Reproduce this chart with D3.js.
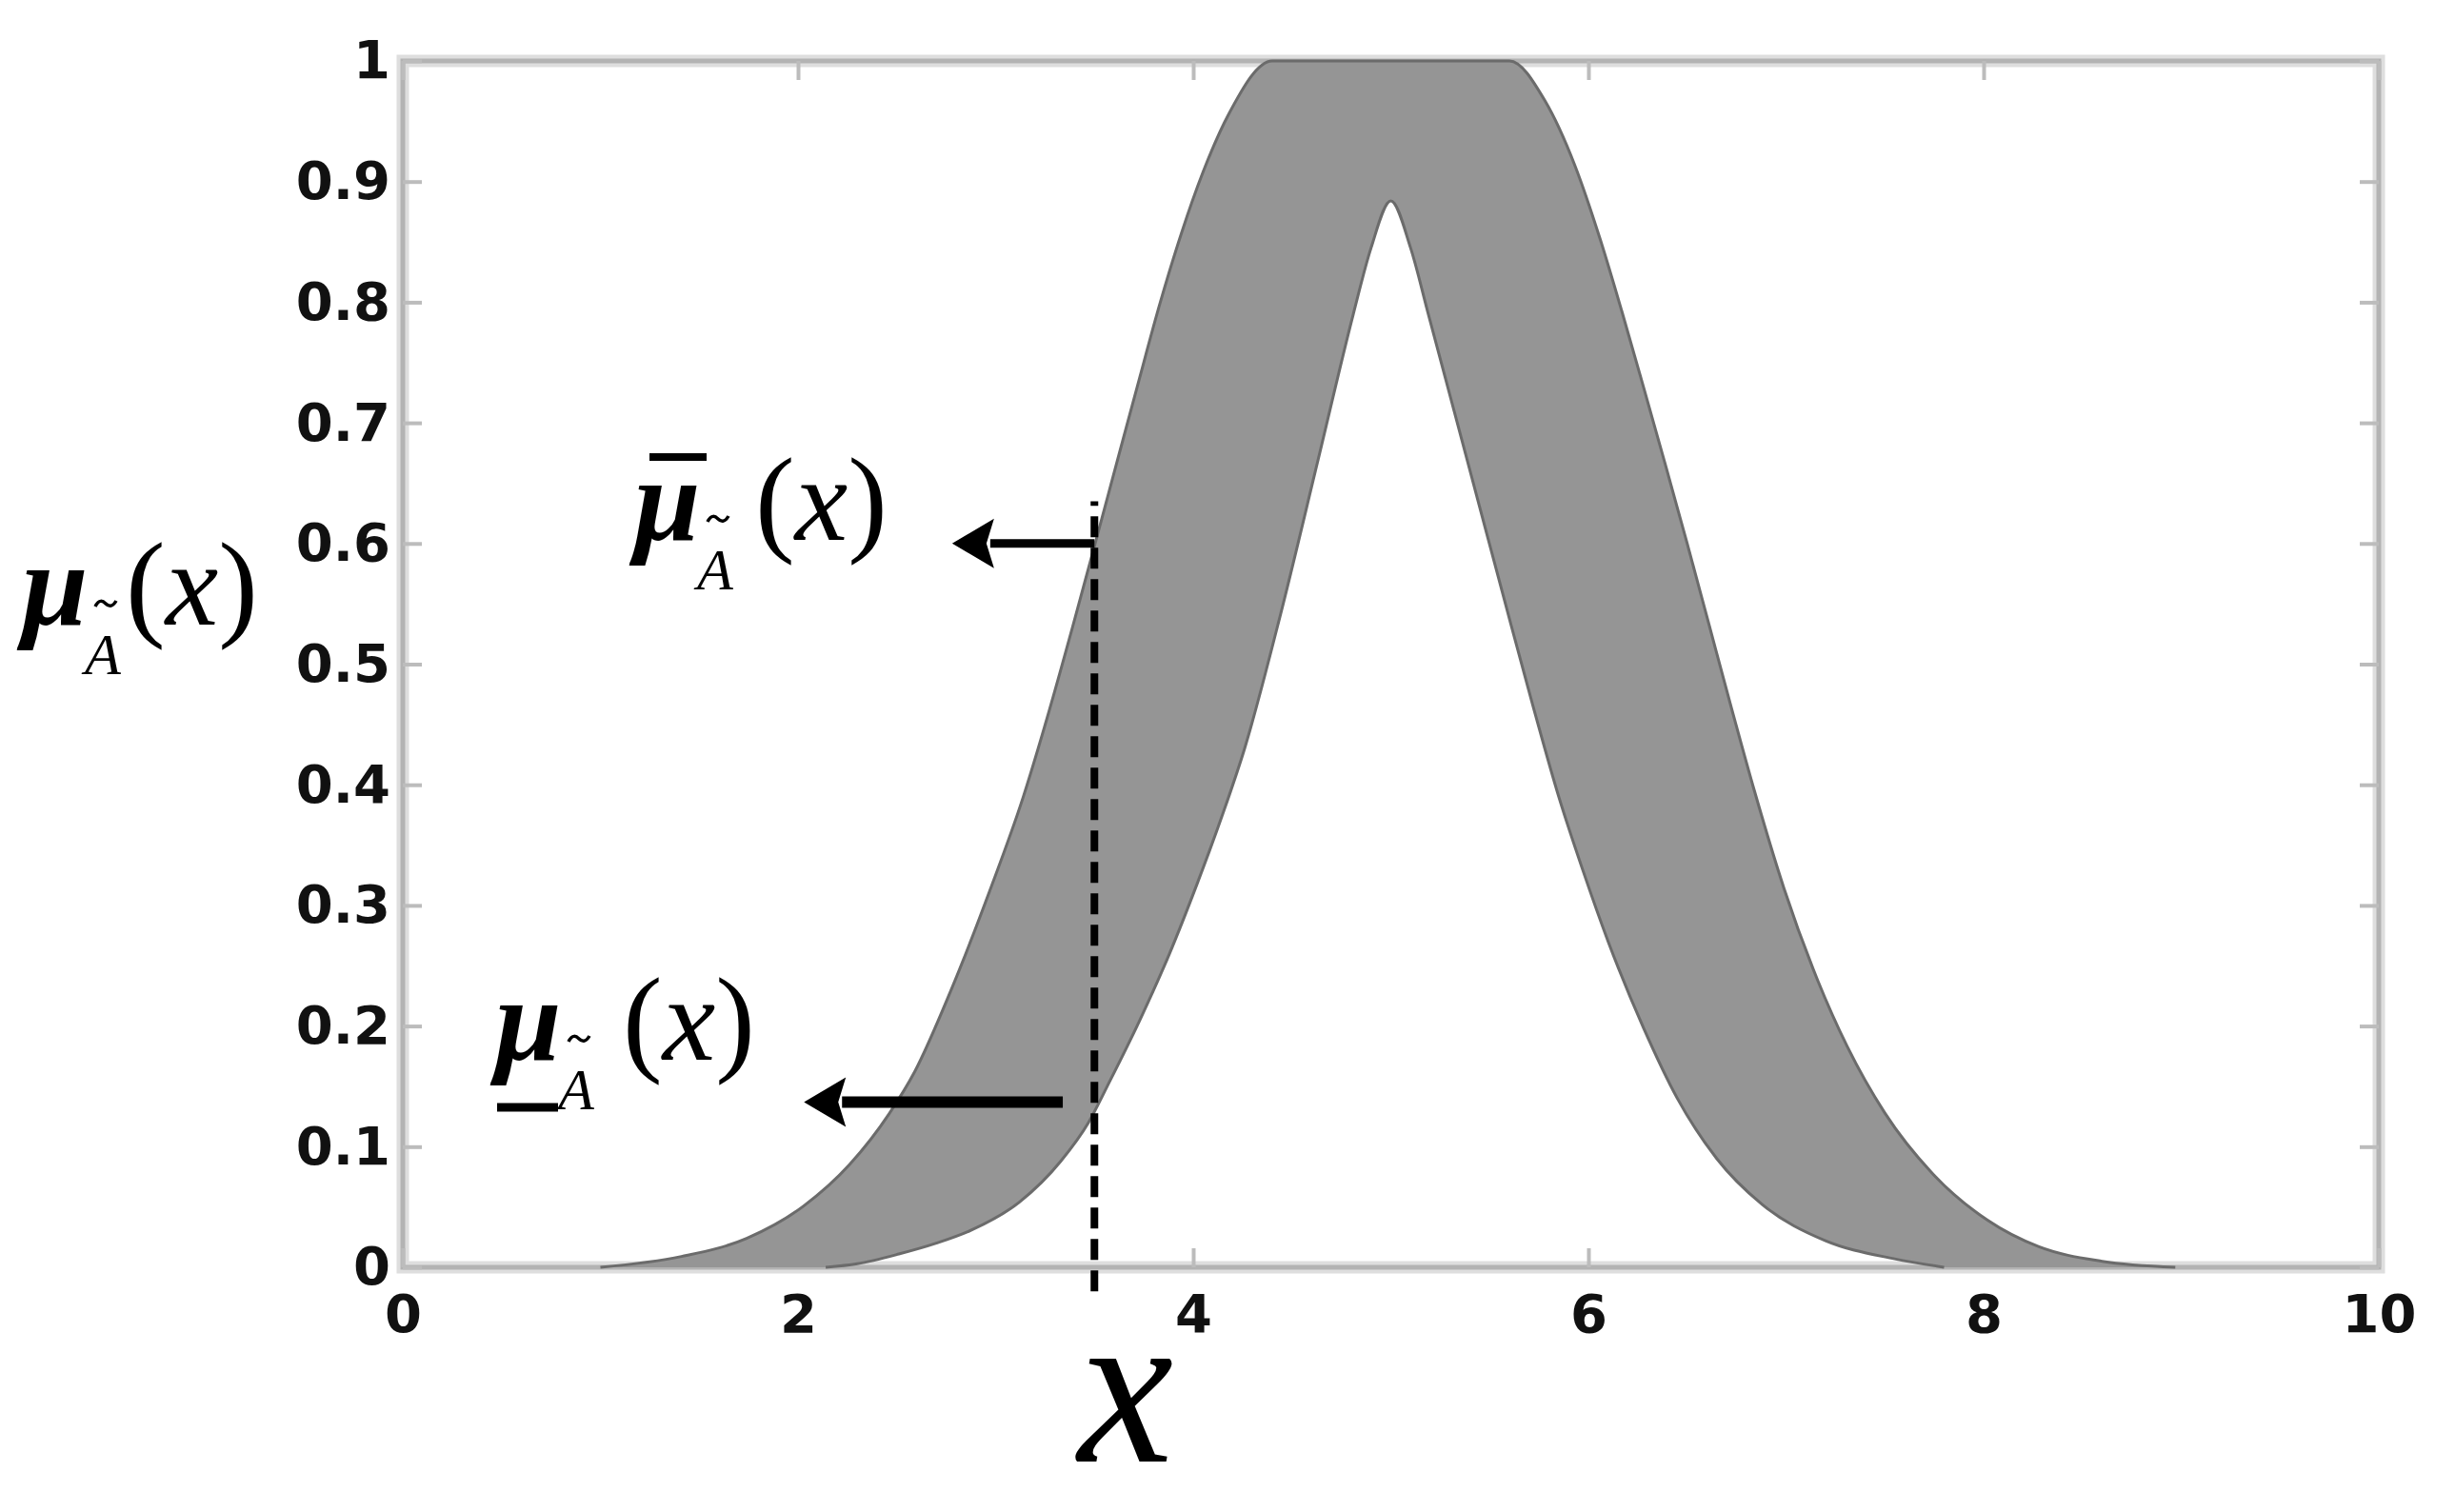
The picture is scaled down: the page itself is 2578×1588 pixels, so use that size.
<!DOCTYPE html>
<html>
<head>
<meta charset="utf-8">
<script src="https://cdn.jsdelivr.net/npm/d3@7"></script>
<style>
  body { margin: 0; background: #fff; }
  .tick text { font-family: 'DejaVu Sans', 'Liberation Sans', sans-serif; font-weight: bold; font-size: 56px; fill: #111; }
  .math text { font-family: 'Liberation Serif', 'Times New Roman', serif; fill: #000; }
</style>
</head>
<body>
<div class="svg"></div>
<script>
const width = 2578
const height = 1588

// tick values and labels
const xTicks = [0, 2, 4, 6, 8, 10]
const xTickLabels = ['0', '2', '4', '6', '8', '10']
const yTicks = [0, 0.1, 0.2, 0.3, 0.4, 0.5, 0.6, 0.7, 0.8, 0.9, 1]
const yTickLabels = ['0', '0.1', '0.2', '0.3', '0.4', '0.5', '0.6', '0.7', '0.8', '0.9', '1']

// upper membership function (outer edge of the band)
const upperX = [1.0, 1.41, 1.74, 2.03, 2.26, 2.46, 2.59, 2.77, 2.97, 3.14,
  3.26, 3.39, 3.52, 3.61, 3.72, 3.83, 3.94, 4.05, 4.18, 4.4,
  5.0, 5.6, 5.78, 5.93, 6.06, 6.17, 6.28, 6.39, 6.5, 6.61,
  6.72, 6.84, 6.99, 7.16, 7.31, 7.5, 7.74, 8.02, 8.28, 8.6, 8.97]
const upperMu = [0, 0.009, 0.024, 0.051, 0.085, 0.127, 0.162, 0.228, 0.312, 0.39,
  0.455, 0.531, 0.61, 0.665, 0.732, 0.798, 0.857, 0.908, 0.956, 1.0,
  1.0, 1.0, 0.967, 0.914, 0.852, 0.792, 0.729, 0.665, 0.6, 0.533,
  0.466, 0.395, 0.314, 0.238, 0.183, 0.128, 0.078, 0.039, 0.017, 0.005, 0]

// lower membership function (inner edge of the band)
const lowerX = [2.14, 2.3, 2.51, 2.7, 2.88, 3.12, 3.33, 3.47, 3.58, 3.73,
  3.88, 4.02, 4.15, 4.26, 4.44, 4.63, 4.81, 4.9, 5.0, 5.1,
  5.19, 5.32, 5.45, 5.58, 5.72, 5.85, 5.97, 6.1, 6.28, 6.45,
  6.65, 6.88, 7.2, 7.55, 7.8]
const lowerMu = [0, 0.003, 0.011, 0.02, 0.031, 0.054, 0.088, 0.12, 0.155, 0.205,
  0.26, 0.318, 0.376, 0.43, 0.54, 0.668, 0.79, 0.845, 0.884, 0.845,
  0.79, 0.71, 0.63, 0.55, 0.465, 0.39, 0.33, 0.27, 0.198, 0.14,
  0.09, 0.052, 0.022, 0.007, 0]

// the dashed cut at x' and the two arrows pointing at the bounds
const cutX = 3.5
const cutRange = [-0.02, 0.635]
const arrowStartX = [3.5, 3.34]
const arrowEndX = [2.78, 2.03]
const arrowMu = [0.6, 0.137]

const svg = d3
  .select('.svg')
  .append('svg')
  .attr('width', width)
  .attr('height', height)

const xScale = d3.scaleLinear().domain([0, 10]).range([423, 2498])
const yScale = d3.scaleLinear().domain([0, 1]).range([1331, 64])

// frame of the axes box
const frame = (stroke, w) =>
  svg
    .append('rect')
    .attr('x', xScale(0))
    .attr('y', yScale(1))
    .attr('width', xScale(10) - xScale(0))
    .attr('height', yScale(0) - yScale(1))
    .attr('fill', 'none')
    .attr('stroke', stroke)
    .attr('stroke-width', w)
frame('#dedede', 13)
frame('#b3b3b3', 5)

const styleTicks = g => {
  g.select('.domain').remove()
  g.selectAll('.tick line').attr('stroke', '#bcbcbc').attr('stroke-width', 4)
}

svg
  .append('g')
  .attr('transform', 'translate(0, ' + yScale(0) + ')')
  .call(d3.axisBottom(xScale).tickValues(xTicks).tickFormat((d, i) => xTickLabels[i]).tickSize(-20).tickPadding(28))
  .call(styleTicks)

svg
  .append('g')
  .attr('transform', 'translate(0, ' + yScale(1) + ')')
  .call(d3.axisTop(xScale).tickValues(xTicks).tickFormat('').tickSize(-20))
  .call(styleTicks)

svg
  .append('g')
  .attr('transform', 'translate(' + xScale(0) + ', 0)')
  .call(d3.axisLeft(yScale).tickValues(yTicks).tickFormat((d, i) => yTickLabels[i]).tickSize(-20).tickPadding(13))
  .call(styleTicks)

svg
  .append('g')
  .attr('transform', 'translate(' + xScale(10) + ', 0)')
  .call(d3.axisRight(yScale).tickValues(yTicks).tickFormat('').tickSize(-20))
  .call(styleTicks)

// footprint of uncertainty: area under upper MF minus area under lower MF
const upperPts = d3.zip(upperX, upperMu)
const lowerPts = d3.zip(lowerX, lowerMu)

const area = d3
  .area()
  .x(d => xScale(d[0]))
  .y0(yScale(0))
  .y1(d => yScale(d[1]))
  .curve(d3.curveMonotoneX)

const line = d3
  .line()
  .x(d => xScale(d[0]))
  .y(d => yScale(d[1]))
  .curve(d3.curveMonotoneX)

const mask = svg
  .append('defs')
  .append('mask')
  .attr('id', 'fou-mask')
  .attr('maskUnits', 'userSpaceOnUse')
  .attr('x', 0)
  .attr('y', 0)
  .attr('width', width)
  .attr('height', height)
mask.append('rect').attr('width', width).attr('height', height).attr('fill', '#fff')
mask.append('path').attr('d', area(lowerPts)).attr('fill', '#000')

svg
  .append('path')
  .attr('d', area(upperPts))
  .attr('fill', '#959595')
  .attr('mask', 'url(#fou-mask)')

svg
  .selectAll('.mf')
  .data([upperPts, lowerPts])
  .enter()
  .append('path')
  .attr('class', 'mf')
  .attr('d', line)
  .attr('fill', 'none')
  .attr('stroke', '#6b6b6b')
  .attr('stroke-width', 3)

// dashed vertical cut
svg
  .append('line')
  .attr('x1', xScale(cutX))
  .attr('x2', xScale(cutX))
  .attr('y1', yScale(cutRange[0]))
  .attr('y2', yScale(cutRange[1]))
  .attr('stroke', '#000')
  .attr('stroke-width', 8)
  .attr('stroke-dasharray', '22 11')

// arrows
const headLen = 44
const headHalf = 26
arrowMu.forEach((mu, i) => {
  const yy = yScale(mu)
  const tip = xScale(arrowEndX[i])
  svg
    .append('line')
    .attr('x1', xScale(arrowStartX[i]))
    .attr('x2', tip + headLen - 4)
    .attr('y1', yy)
    .attr('y2', yy)
    .attr('stroke', '#000')
    .attr('stroke-width', i === 0 ? 9 : 12)
  svg
    .append('path')
    .attr('d', 'M' + tip + ',' + yy + 'L' + (tip + headLen) + ',' + (yy - headHalf) +
      'L' + (tip + headLen - 8) + ',' + yy + 'L' + (tip + headLen) + ',' + (yy + headHalf) + 'Z')
    .attr('fill', '#000')
})

// mu_A~(x) style labels; the tilde accent is drawn as a small stroke
const mathLabel = (x0, base, parenX, deco) => {
  const g = svg.append('g').attr('class', 'math')
  const t = g.append('text').attr('x', x0).attr('y', base).attr('font-size', 125)
  t.append('tspan')
    .attr('font-style', 'italic')
    .attr('font-weight', 'bold')
    .text('μ')
  t.append('tspan')
    .attr('x', x0 + 66)
    .attr('y', base + 52)
    .attr('font-size', 62)
    .attr('font-style', 'italic')
    .text('A')
  t.append('tspan').attr('x', parenX).attr('y', base).text('(')
  t.append('tspan').attr('font-style', 'italic').text('x')
  t.append('tspan').text(')')

  const tx = x0 + 88
  const ty = base - 22
  g.append('path')
    .attr('d', 'M' + (tx - 11) + ',' + (ty + 3) + ' C' + (tx - 7) + ',' + (ty - 5) + ' ' + (tx - 3) + ',' + (ty - 3) +
      ' ' + tx + ',' + ty + ' S' + (tx + 7) + ',' + (ty + 4) + ' ' + (tx + 11) + ',' + (ty - 3))
    .attr('fill', 'none')
    .attr('stroke', '#000')
    .attr('stroke-width', 3.5)

  if (deco === 'over') {
    g.append('line').attr('x1', x0 + 16).attr('x2', x0 + 76)
      .attr('y1', base - 87).attr('y2', base - 87)
      .attr('stroke', '#000').attr('stroke-width', 8)
  }
  if (deco === 'under') {
    g.append('line').attr('x1', x0 + 2).attr('x2', x0 + 66)
      .attr('y1', base + 50).attr('y2', base + 50)
      .attr('stroke', '#000').attr('stroke-width', 9)
  }
}

mathLabel(23, 656, 132, null)
mathLabel(666, 567, 793, 'over')
mathLabel(520, 1113, 654, 'under')

// x axis title
svg
  .append('g')
  .attr('class', 'math')
  .append('text')
  .attr('transform', 'translate(1132, 1535) scale(1.1, 1.15)')
  .attr('font-size', 205)
  .attr('font-style', 'italic')
  .text('x')
</script>
</body>
</html>
